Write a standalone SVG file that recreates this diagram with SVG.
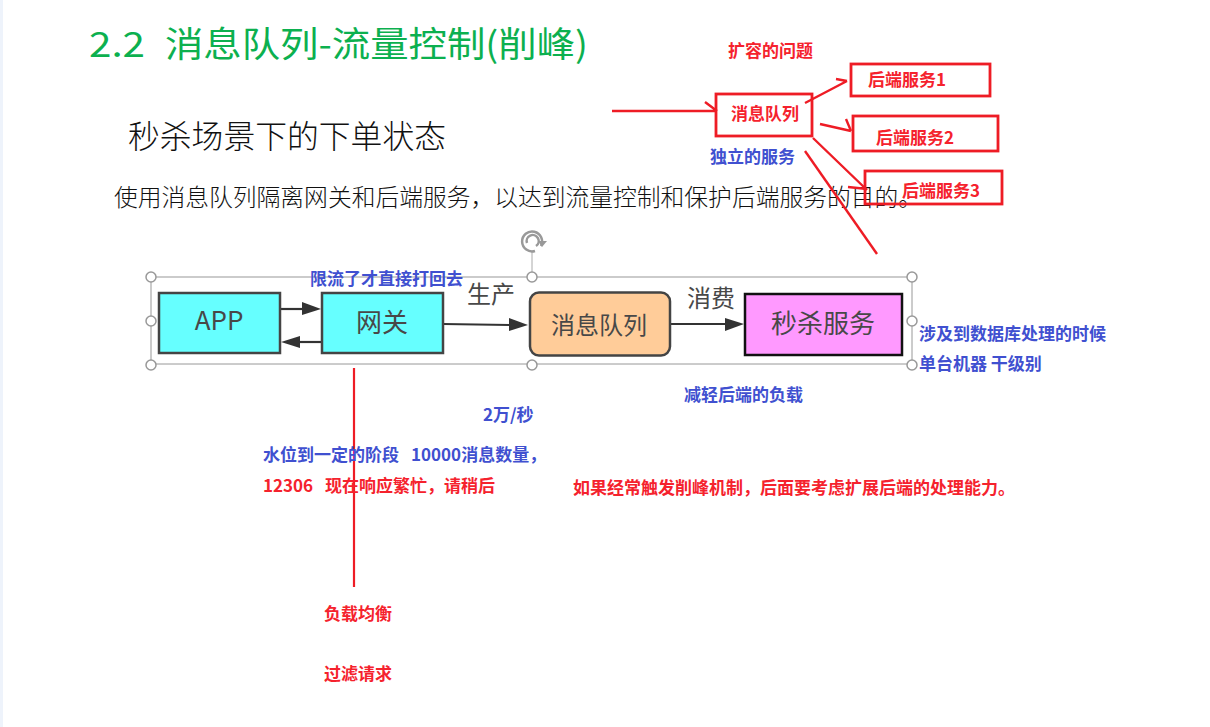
<svg xmlns="http://www.w3.org/2000/svg" width="1210" height="727" viewBox="0 0 1210 727">
<style>
text{font-family:"Noto Sans CJK SC","Liberation Sans",sans-serif}
.r{fill:#f5222d;font-weight:700;font-size:17px}
.b{fill:#4050d0;font-weight:700;font-size:17px}
.rb{fill:none;stroke:#ee1c25;stroke-width:2.8}
.rl{fill:none;stroke:#ee1c25;stroke-width:2.4}
.h{fill:#fff;stroke:#999;stroke-width:1.5}
.n{stroke:#444;stroke-width:2.5}
.l{fill:#484848}
.c{stroke:#333;stroke-width:2.2;fill:none}
.g{fill:#333}
</style>
<rect width="1210" height="727" fill="#fff"/>
<rect width="3" height="727" fill="#eef3fb"/>
<text x="89" y="57" font-size="35" fill="#0cb04f" textLength="56" lengthAdjust="spacingAndGlyphs">2.2</text>
<text x="165" y="57" font-size="35" fill="#0cb04f" textLength="423" lengthAdjust="spacingAndGlyphs">消息队列-流量控制(削峰)</text>
<text x="128" y="148" font-size="32" fill="#111" font-weight="300" textLength="318" lengthAdjust="spacingAndGlyphs">秒杀场景下的下单状态</text>
<text x="114" y="206" font-size="23.500" fill="#111" font-weight="300" textLength="808" lengthAdjust="spacingAndGlyphs">使用消息队列隔离网关和后端服务，以达到流量控制和保护后端服务的目的。</text>
<g id="selection" fill="none">
<rect x="151" y="277" width="761" height="87" fill="none" stroke="#bbb" stroke-width="1.5"/>
<path d="M532 277V252" stroke="#aaa" stroke-width="1"/>
<path d="M541 246A10 10 0 1 0 535 251M527 243A6 6 0 1 1 536 246" fill="none" stroke="#999" stroke-width="2.500"/>
<path d="M538 241H547L542 247Z" fill="#999"/>
<circle class="h" cx="151" cy="277" r="5"/><circle class="h" cx="532" cy="277" r="5"/><circle class="h" cx="912" cy="277" r="5"/>
<circle class="h" cx="151" cy="321" r="5"/><circle class="h" cx="912" cy="321" r="5"/>
<circle class="h" cx="151" cy="365" r="5"/><circle class="h" cx="532" cy="365" r="5"/><circle class="h" cx="912" cy="365" r="5"/>
</g>
<g id="connectors">
<path class="c" d="M280 309H305"/><path class="g" d="M302 302L321 309L302 315Z"/>
<path class="c" d="M322 342H298"/><path class="g" d="M300 336L281 342L300 348Z"/>
<path class="c" d="M443 324L510 325"/><path class="g" d="M509 318L528 325L509 331Z"/>
<path class="c" d="M671 324H726"/><path class="g" d="M725 318L744 324L725 331Z"/>
<path class="rl" d="M612 111H716M705 102L717 111"/>
<path class="rl" d="M805 103L847 81M836 79L847 81"/>
<path class="rl" d="M820 124L851 131M846 119L851 131"/>
<path class="rl" d="M813 138L867 190M848 187L867 189"/>
<path class="rl" d="M805 151L877 254"/>
<path d="M354 368V587" stroke="#ee1c25" stroke-width="2.200"/>
</g>
<g id="app"><rect class="n" x="159" y="293" width="121" height="60" fill="#66ffff"/><text class="l" x="219" y="330" font-size="26" text-anchor="middle">APP</text></g>
<g id="gateway"><rect class="n" x="322" y="293" width="121" height="60" fill="#66ffff"/><text class="l" x="382" y="332" font-size="26" text-anchor="middle">网关</text></g>
<g id="queue"><rect class="n" x="530" y="292.500" width="140" height="63" rx="9" fill="#ffcc99"/><text class="l" x="599" y="334" font-size="24" text-anchor="middle">消息队列</text></g>
<g id="seckill"><rect x="745" y="294" width="157" height="61" fill="#ff99ff" stroke="#111" stroke-width="2.500"/><text class="l" x="823" y="333" font-size="26" text-anchor="middle">秒杀服务</text></g>
<text class="l" x="467" y="303" font-size="24">生产</text>
<text class="l" x="687" y="307" font-size="24">消费</text>
<g id="mq2"><rect class="rb" x="716" y="94" width="96" height="42"/><text class="r" x="731" y="120">消息队列</text></g>
<g id="svc1"><rect class="rb" x="851" y="64" width="139" height="32"/><text class="r" x="868" y="86">后端服务1</text></g>
<g id="svc2"><rect class="rb" x="853" y="116" width="145" height="35"/><text class="r" x="876" y="144">后端服务2</text></g>
<g id="svc3"><rect class="rb" x="865" y="171" width="137" height="33"/><text class="r" x="902" y="197">后端服务3</text></g>
<text class="r" x="728" y="57">扩容的问题</text>
<text class="b" x="710" y="163">独立的服务</text>
<text class="b" x="310" y="285">限流了才直接打回去</text>
<text class="b" x="919" y="340">涉及到数据库处理的时候</text>
<text class="b" x="919" y="370">单台机器 干级别</text>
<text class="b" x="684" y="401">减轻后端的负载</text>
<text class="b" x="483" y="421">2万/秒</text>
<text class="b" x="263" y="461"><tspan>水位到一定的阶段</tspan><tspan x="411">10000消息数量，</tspan></text>
<text class="r" x="263" y="492">12306<tspan x="325">现在响应繁忙，请稍后</tspan></text>
<text class="r" x="573" y="494">如果经常触发削峰机制，后面要考虑扩展后端的处理能力。</text>
<text class="r" x="324" y="620">负载均衡</text>
<text class="r" x="324" y="680">过滤请求</text>
</svg>
